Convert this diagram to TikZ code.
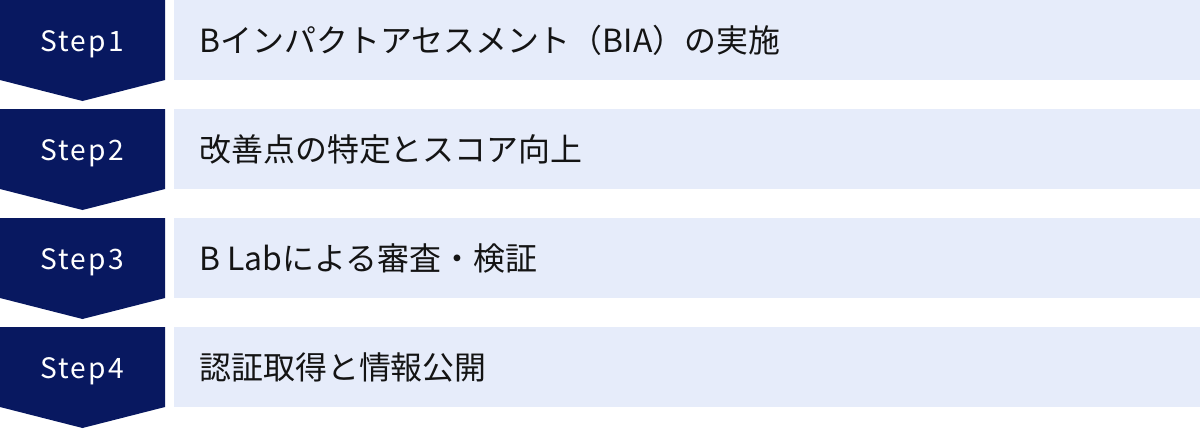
\documentclass[tikz,border=0pt]{standalone}
\usepackage{fontspec}
\setmainfont{Noto Sans CJK JP}
\newfontfamily\stepfont[LetterSpace=8]{Noto Sans CJK JP}
\usetikzlibrary{positioning}

\definecolor{navy}{RGB}{8,24,96}
\definecolor{paleblue}{RGB}{230,236,250}
\definecolor{inkgray}{RGB}{20,20,20}

\begin{document}
\begin{tikzpicture}[
        chevron/.style={fill=navy},
        band/.style={fill=paleblue},
        steplabel/.style={anchor=base, inner sep=0pt, text=white, font=\stepfont\fontsize{20pt}{24pt}\selectfont},
        tasklabel/.style={anchor=base west, inner sep=0pt, text=inkgray, font=\fontsize{22.7pt}{27pt}\selectfont},
    ]
        \useasboundingbox (0,0) rectangle (30,10.725);

        % Step 1
        \fill[chevron] (0,10.725) -- (4.125,10.725) -- (4.125,8.725) -- (2.0625,8.2) -- (0,8.725) -- cycle;
        \fill[band] (4.35,10.725) rectangle (30,8.725);
        \node[steplabel] (step1) at (2.05,9.43) {Step1};
        \node[tasklabel] (task1) at (4.98,9.425) {Bインパクトアセスメント（BIA）の実施};

        % Step 2
        \fill[chevron] (0,8.0) -- (4.125,8.0) -- (4.125,6.0) -- (2.0625,5.475) -- (0,6.0) -- cycle;
        \fill[band] (4.35,8.0) rectangle (30,6.0);
        \node[steplabel] (step2) at (2.05,6.705) {Step2};
        \node[tasklabel] (task2) at (4.98,6.7) {改善点の特定とスコア向上};

        % Step 3
        \fill[chevron] (0,5.275) -- (4.125,5.275) -- (4.125,3.275) -- (2.0625,2.75) -- (0,3.275) -- cycle;
        \fill[band] (4.35,5.275) rectangle (30,3.275);
        \node[steplabel] (step3) at (2.05,3.98) {Step3};
        \node[tasklabel] (task3) at (4.98,3.975) {B Labによる審査・検証};

        % Step 4
        \fill[chevron] (0,2.55) -- (4.125,2.55) -- (4.125,0.55) -- (2.0625,0.025) -- (0,0.55) -- cycle;
        \fill[band] (4.35,2.55) rectangle (30,0.55);
        \node[steplabel] (step4) at (2.05,1.255) {Step4};
        \node[tasklabel] (task4) at (4.98,1.25) {認証取得と情報公開};
    \end{tikzpicture}
\end{document}
